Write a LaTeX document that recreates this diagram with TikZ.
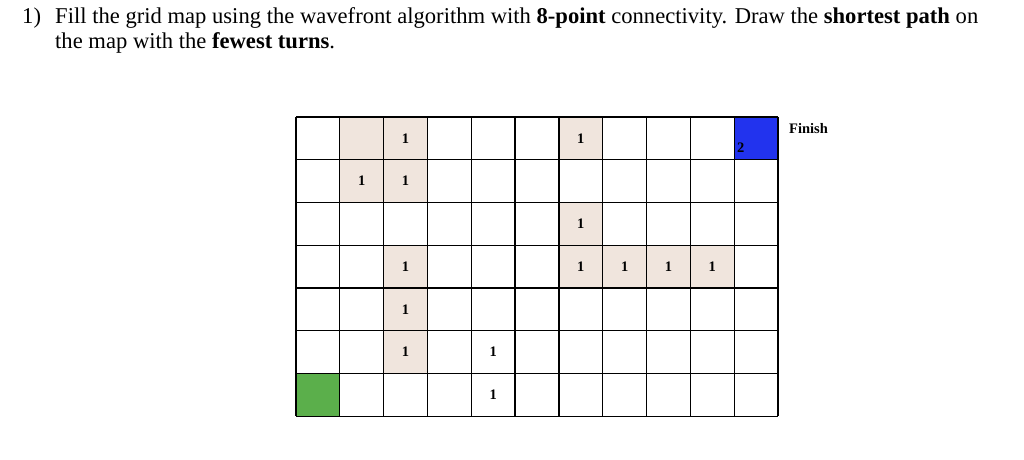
\documentclass[tikz,border=0pt]{standalone}
\usepackage{fontspec}
\setmainfont{Liberation Serif}
\definecolor{tint}{HTML}{F0E5DD}
\definecolor{gr}{HTML}{5BAF4B}
\definecolor{bl}{HTML}{2233EE}
\begin{document}
\begin{tikzpicture}[x=1pt,y=-1pt,
  num/.style={font=\fontsize{14.5}{14}\selectfont\bfseries},
  txt/.style={anchor=base west,inner sep=0,font=\fontsize{22.6}{24}\selectfont}]
\useasboundingbox (0,0) rectangle (1024,459);
\def\cw{43.82}\def\rh{42.75}
\foreach \r/\c in {0/1,0/2,0/6,1/1,1/2,2/6,3/2,3/6,3/7,3/8,3/9,4/2,5/2}
  \fill[tint] ({296+\c*\cw},{117+\r*\rh}) rectangle +(\cw,\rh);
\fill[gr] ({296},{117+6*\rh}) rectangle +(\cw,\rh);
\fill[bl] ({296+10*\cw},{117}) rectangle +(\cw,\rh);
\foreach \c in {0,...,11} \draw[line width=1.3pt] ({296+\c*\cw},117) -- ({296+\c*\cw},416.25);
\foreach \r in {0,...,7} \draw[line width=1.3pt] (296,{117+\r*\rh}) -- (778,{117+\r*\rh});
\foreach \r/\c in {0/2,0/6,1/1,1/2,2/6,3/2,3/6,3/7,3/8,3/9,4/2,5/2,5/4,6/4}
  \node[num] (n\r\c) at ({296+(\c+0.5)*\cw},{117+(\r+0.5)*\rh}) {1};
\node[num,anchor=west,inner sep=0] (two) at (737,148) {2};
\node[num,anchor=base west,inner sep=0] (fin) at (789,133) {Finish};
\node[txt] (l0) at (22,23) {1)};
\node[txt] (l1) at (55,23) {Fill the grid map using the wavefront algorithm with \textbf{8-point} connectivity. Draw the \textbf{shortest path} on};
\node[txt] (l2) at (55,48) {the map with the \textbf{fewest turns}.};
\end{tikzpicture}
\end{document}
